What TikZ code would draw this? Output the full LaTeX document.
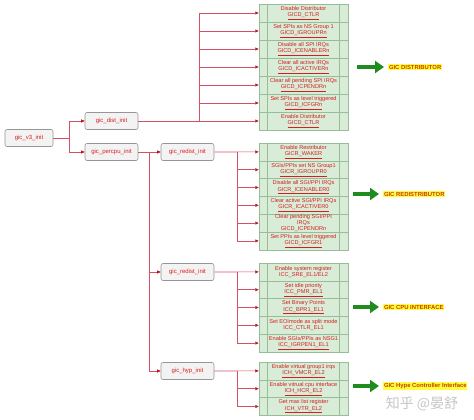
\documentclass[tikz,border=0pt]{standalone}
\usepackage{fontspec}
\setmainfont{Liberation Sans}
\newfontfamily\cjkfont{Noto Sans CJK SC}
\usetikzlibrary{arrows.meta}
\definecolor{linered}{RGB}{214,80,100}
\definecolor{tipred}{RGB}{190,20,40}
\definecolor{txtred}{RGB}{215,30,30}
\definecolor{cellfill}{RGB}{216,236,216}
\definecolor{celldraw}{RGB}{150,190,150}
\definecolor{fnfill}{RGB}{243,243,243}
\definecolor{fndraw}{RGB}{150,150,150}
\definecolor{garrow}{RGB}{30,140,30}
\definecolor{hl}{RGB}{255,255,60}
\definecolor{hltext}{RGB}{200,60,0}
\tikzset{
 fn/.style={draw=fndraw, fill=fnfill, rounded corners=2pt, minimum width=53pt, minimum height=17pt, font=\fontsize{6}{7}\selectfont, text=txtred, inner sep=0pt, line width=0.6pt},
 cell/.style={draw=celldraw, fill=cellfill, minimum width=89pt, minimum height=17.8pt, inner sep=0pt, align=center, font=\fontsize{5.6}{6.2}\selectfont, text=txtred, line width=0.5pt},
 link/.style={draw=linered, line width=0.6pt, -{Triangle[length=3.5pt,width=3pt,color=tipred]}},
 plain/.style={draw=linered, line width=0.6pt},
 garr/.style={draw=garrow, line width=4pt, -{Triangle[length=9pt,width=12pt]}, shorten >=4pt},
 tag/.style={fill=hl, text=hltext, font=\bfseries\fontsize{5.9}{6.2}\selectfont, inner sep=0.8pt, anchor=west},
 strip/.style={draw=celldraw, line width=0.5pt},
}
\begin{document}
\begin{tikzpicture}[x=1pt,y=-1pt]
\fill[white] (0,0) rectangle (474,420);
\useasboundingbox (0,0) rectangle (474,420);

% function boxes
\node[fn, minimum width=48pt] (v3) at (29,138) {gic\_v3\_init};
\node[fn] (dist) at (111.5,121) {gic\_dist\_init};
\node[fn] (percpu) at (111.5,152) {gic\_percpu\_init};
\node[fn] (redistA) at (187.5,152) {gic\_redist\_init};
\node[fn] (redistB) at (187.5,272) {gic\_redist\_init};
\node[fn] (hyp) at (187.5,371) {gic\_hyp\_init};

% group 1: distributor
\node[cell] (d1) at (303.5,13) {Disable Distributor\\\underline{GICD\_CTLR}};
\node[cell] (d2) at (303.5,31) {Set SPIs as NS Group 1\\\underline{GICD\_IGROUPRn}};
\node[cell] (d3) at (303.5,49) {Disable all SPI IRQs\\\underline{GICD\_ICENABLERn}};
\node[cell] (d4) at (303.5,67) {Clear all active IRQs\\\underline{GICD\_ICACTIVERn}};
\node[cell] (d5) at (303.5,85) {Clear all pending SPI IRQs\\\underline{GICD\_ICPENDRn}};
\node[cell] (d6) at (303.5,103) {Set SPIs as level triggered\\\underline{GICD\_ICFGRn}};
\node[cell] (d7) at (303.5,121) {Enable Distributor\\\underline{GICD\_CTLR}};
\draw[strip] (267,4) -- (267,130) (339,4) -- (339,130);

% group 2: redistributor
\node[cell] (r1) at (303.5,151.9) {Enable Restributor\\\underline{GICR\_WAKER}};
\node[cell] (r2) at (303.5,169.7) {SGIs/PPIs set NS Group1\\\underline{GICR\_IGROUPR0}};
\node[cell] (r3) at (303.5,187.5) {Disable all SGI/PPI IRQs\\\underline{GICR\_ICENABLER0}};
\node[cell] (r4) at (303.5,205.3) {Clear active SGI/PPI IRQs\\\underline{GICR\_ICACTIVER0}};
\node[cell, font=\fontsize{5.6}{5.6}\selectfont] (r5) at (303.5,223.1) {Clear pending SGI/PPI\\IRQs\\GICD\_ICPENDRn};
\node[cell] (r6) at (303.5,240.9) {Set PPIs as level triggered\\\underline{GICD\_ICFGR1}};
\draw[strip] (267,143) -- (267,249.8) (339,143) -- (339,249.8);

% group 3: cpu interface
\node[cell] (c1) at (303.5,271.9) {Enable system register\\ICC\_SRE\_EL1/EL2};
\node[cell] (c2) at (303.5,289.7) {Set idle priority\\\underline{ICC\_PMR\_EL1}};
\node[cell] (c3) at (303.5,307.5) {Set Binary Points\\\underline{ICC\_BPR1\_EL1}};
\node[cell] (c4) at (303.5,325.3) {Set EOImode as split mode\\ICC\_CTLR\_EL1};
\node[cell] (c5) at (303.5,343.1) {Enable SGIs/PPIs as NSG1\\\underline{ICC\_IGRPEN1\_EL1}};
\draw[strip] (267,263) -- (267,352) (339,263) -- (339,352);

% group 4: hyp
\node[cell] (h1) at (303.5,370.9) {Enable virtual group1 irqs\\\underline{ICH\_VMCR\_EL2}};
\node[cell] (h2) at (303.5,388.7) {Enable vitrual cpu interface\\\underline{ICH\_HCR\_EL2}};
\node[cell] (h3) at (303.5,406.5) {Get max list register\\\underline{ICH\_VTR\_EL2}};
\draw[strip] (267,362) -- (267,415.4) (339,362) -- (339,415.4);

% connectors
\coordinate (j0) at (69,138);
\draw[plain] (v3.east) -- (j0);
\draw[link] (j0) |- (dist.west);
\draw[link] (j0) |- (percpu.west);

\coordinate (j1) at (199,121);
\draw[link] (dist.east) -- (d7.west);
\foreach \n in {d1,d2,d3,d4,d5,d6} \draw[link] (j1) |- (\n.west);

\coordinate (j2) at (149,152);
\draw[link] (percpu.east) -- (redistA.west);
\draw[link] (j2) |- (redistB.west);
\draw[link] (j2) |- (hyp.west);

\coordinate (j3) at (237,152);
\draw[link] (redistA.east) -- (r1.west);
\foreach \n in {r2,r3,r4,r5,r6} \draw[link] (j3) |- (\n.west);

\coordinate (j4) at (237,272);
\draw[link] (redistB.east) -- (c1.west);
\foreach \n in {c2,c3,c4,c5} \draw[link] (j4) |- (\n.west);

\coordinate (j5) at (237,371);
\draw[link] (hyp.east) -- (h1.west);
\foreach \n in {h2,h3} \draw[link] (j5) |- (\n.west);

% callouts
\node[tag] (t1) at (388,67) {GIC DISTRIBUTOR};
\node[tag] (t2) at (383,194) {GIC REDISTRIBUTOR};
\node[tag] (t3) at (383,307) {GIC CPU INTERFACE};
\node[tag] (t4) at (383,386) {GIC Hype Controller Interface};
\coordinate (g1) at (357,67);
\coordinate (g2) at (353,194);
\coordinate (g3) at (353,307);
\coordinate (g4) at (353,386);
\draw[garr] (g1) -- (t1.west);
\draw[garr] (g2) -- (t2.west);
\draw[garr] (g3) -- (t3.west);
\draw[garr] (g4) -- (t4.west);

% watermark
\node[text=gray!45, font=\cjkfont\fontsize{14}{14}\selectfont] (wm) at (422,404) {知乎 @晏舒};
\end{tikzpicture}
\end{document}
